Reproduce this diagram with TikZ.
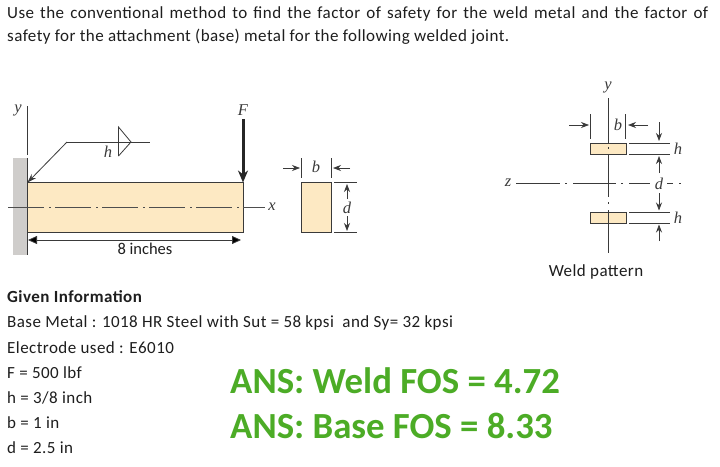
\documentclass[tikz,border=0pt]{standalone}
\usepackage{fontspec}
\setmainfont{Carlito}[LetterSpace=2.6]
\newfontfamily\plainfont{Carlito}
\newfontfamily\serifit{Liberation Serif}[ItalicFont=* Italic]
\usetikzlibrary{arrows.meta}
\definecolor{beam}{HTML}{FDE9C3}
\definecolor{wall}{HTML}{CFCDCB}
\definecolor{ink}{HTML}{3A3A3A}
\definecolor{ans}{HTML}{4CAC26}
\definecolor{txt}{HTML}{1E1E1E}
\tikzset{
  x=1pt,y=-1pt,
  body/.style={inner sep=0pt,anchor=west,text=txt,font=\fontsize{17}{20}\selectfont},
  lbl/.style={inner sep=0pt,text=txt,font=\fontsize{17}{20}\selectfont},
  answer/.style={inner sep=0pt,anchor=west,text=ans,font=\plainfont\fontsize{36.8}{40}\selectfont\bfseries},
  sym/.style={inner sep=0pt,text=ink,font=\fontsize{16.5}{17}\serifit\itshape},
  part/.style={draw=ink,line width=1pt,fill=beam,inner sep=0pt,outer sep=0pt},
  ln/.style={draw=ink,line width=0.8pt},
  thin ln/.style={draw=ink,line width=0.7pt},
  centre/.style={draw=ink!90,line width=0.8pt,dash pattern=on 36pt off 5pt on 2pt off 4pt},
  dim/.style={draw=ink,line width=0.7pt,-{Stealth[length=8pt,width=6pt]}},
  span/.style={draw=ink,line width=0.8pt,{Triangle[length=9pt,width=8pt,fill=black]}-{Triangle[length=9pt,width=8pt,fill=black]}},
}
\begin{document}
\begin{tikzpicture}
\useasboundingbox (0,0) rectangle (720,466);
\fill[white] (0,0) rectangle (720,466);
% heading
\node[body] (t1) at (7,14) {\makebox[701pt][s]{Use the conventional method to find the factor of safety for the weld metal and the factor of}};
\node[body] (t2) at (7,37) {safety for the attachment (base) metal for the following welded joint.};
% wall and beam
\node[draw=none,fill=wall,inner sep=0pt,minimum width=14.5pt,minimum height=97pt,anchor=north east] (wallbox) at (27.5,158) {};
\node[part,minimum width=215.5pt,minimum height=49.5pt,anchor=north west] (beambox) at (27.5,182.5) {};
\coordinate (ytop) at (27.5,106);
\coordinate (ybreak) at (27.5,155);
\coordinate (wallbase) at (27.5,255);
\draw[ln] (ytop) -- (ybreak);
\draw[ln] (27.5,158) -- (wallbase);
\coordinate (cl0) at (8,207);
\coordinate (cl1) at (265,207);
\draw[centre] (cl0) -- (cl1);
\node[sym] (ylab) at (18,110) {y};
\node[sym] (xlab) at (272,207) {x};
\node[sym] (flab) at (243,110) {F};
% force
\coordinate (ftop) at (243,119);
\draw[draw=black!85,line width=3pt,-{Stealth[length=12pt,width=10pt]}] (ftop) -- (beambox.north east);
% weld symbol
\coordinate (lk) at (67,142);
\coordinate (lend) at (150,142);
\coordinate (wt) at (118.5,127);
\coordinate (wp) at (131,142);
\coordinate (wb) at (118.5,156);
\draw[ln,-{Stealth[length=9pt,width=6pt]}] (lk) -- (beambox.north west);
\draw[ln] (lk) -- (lend);
\draw[ln] (wb) -- (wt) -- (wp) -- (wb);
\node[sym] (hlab) at (108,151.5) {h};
% length dimension
\coordinate (da) at (28,240);
\coordinate (db) at (241,240);
\draw[span] (da) -- (db);
\node[lbl,font=\plainfont\fontsize{16.5}{20}\selectfont] (len) at (145,248.5) {8 inches};
% section
\node[part,minimum width=30.5pt,minimum height=50pt,anchor=north west] (sec) at (301,182) {};
\coordinate (sl0) at (301,158); \coordinate (sl1) at (301,178);
\coordinate (sr0) at (331.5,158); \coordinate (sr1) at (331.5,178);
\draw[thin ln] (sl0) -- (sl1);
\draw[thin ln] (sr0) -- (sr1);
\coordinate (sa0) at (283,168); \coordinate (sa1) at (300,168);
\coordinate (sb0) at (350,168); \coordinate (sb1) at (333,168);
\draw[dim] (sa0) -- (sa1);
\draw[dim] (sb0) -- (sb1);
\node[sym] (blab) at (316,167) {b};
\coordinate (se0) at (334,182); \coordinate (se1) at (357,182);
\coordinate (sf0) at (334,232); \coordinate (sf1) at (357,232);
\draw[thin ln] (se0) -- (se1);
\draw[thin ln] (sf0) -- (sf1);
\coordinate (sc0) at (347,199); \coordinate (sc1) at (347,184);
\coordinate (sd0) at (347,216); \coordinate (sd1) at (347,231);
\draw[dim] (sc0) -- (sc1);
\draw[dim] (sd0) -- (sd1);
\node[sym] (dlab) at (347,207.5) {d};
% weld pattern
\node[part,minimum width=36.5pt,minimum height=11pt,anchor=north west] (wtop) at (590,143) {};
\node[part,minimum width=36.5pt,minimum height=11pt,anchor=north west] (wbot) at (590,212) {};
\coordinate (ay0) at (608,98); \coordinate (ay1) at (608,143);
\coordinate (ayd0) at (608,147); \coordinate (ayd1) at (608,149);
\coordinate (ay1b) at (608,154); \coordinate (ay1c) at (608,197);
\coordinate (ay2) at (608,202); \coordinate (ay3) at (608,204);
\coordinate (ay4) at (608,210); \coordinate (ay5) at (608,253);
\draw[ln] (ay0) -- (ay1);
\draw[ln] (ayd0) -- (ayd1);
\draw[ln] (ay1b) -- (ay1c);
\draw[ln] (ay2) -- (ay3);
\draw[ln] (ay4) -- (ay5);
\coordinate (az0) at (516,183); \coordinate (az1) at (560,183);
\coordinate (az2) at (565,183); \coordinate (az3) at (567,183);
\coordinate (az4) at (573,183); \coordinate (az5) at (616,183);
\coordinate (az6) at (621,183); \coordinate (az7) at (623,183);
\coordinate (az8) at (629,183); \coordinate (az9) at (650,183);
\coordinate (aza) at (667,183); \coordinate (azb) at (673,183);
\coordinate (azc) at (679,183); \coordinate (azd) at (681,183);
\draw[ln] (az0) -- (az1);
\draw[ln] (az2) -- (az3);
\draw[ln] (az4) -- (az5);
\draw[ln] (az6) -- (az7);
\draw[ln] (az8) -- (az9);
\draw[ln] (aza) -- (azb);
\draw[ln] (azc) -- (azd);
\node[sym] (py) at (608,87) {y};
\node[sym] (pz) at (508,183) {z};
\node[sym] (pd) at (659,183.5) {d};
\node[sym] (pb) at (618,125) {b};
\node[sym] (ph1) at (678,149) {h};
\node[sym] (ph2) at (678,218) {h};
\coordinate (pl0) at (590,114); \coordinate (pl1) at (590,139);
\coordinate (pr0) at (625.7,114); \coordinate (pr1) at (625.7,139);
\draw[thin ln] (pl0) -- (pl1);
\draw[thin ln] (pr0) -- (pr1);
\coordinate (pa0) at (569,125); \coordinate (pa1) at (589,125);
\coordinate (pb0) at (648,125); \coordinate (pb1) at (628,125);
\draw[dim] (pa0) -- (pa1);
\draw[dim] (pb0) -- (pb1);
\foreach \nm/\yy in {a/143,b/154,c/212,d/223}{
  \coordinate (h\nm0) at (629,\yy); \coordinate (h\nm1) at (670,\yy);
  \draw[thin ln] (h\nm0) -- (h\nm1);
}
\coordinate (v10) at (659,122); \coordinate (v11) at (659,141);
\coordinate (v20) at (659,173); \coordinate (v21) at (659,156);
\coordinate (v30) at (659,193); \coordinate (v31) at (659,210.5);
\coordinate (v40) at (659,241); \coordinate (v41) at (659,224.5);
\draw[dim] (v10) -- (v11);
\draw[dim] (v20) -- (v21);
\draw[dim] (v30) -- (v31);
\draw[dim] (v40) -- (v41);
\node[lbl] (wpl) at (596,272) {Weld pattern};
% given
\node[body,font=\fontsize{17}{20}\selectfont\bfseries] (g0) at (7,297) {Given Information};
\node[body] (g1) at (7,322.5) {Base Metal : 1018 HR Steel with Sut = 58 kpsi\ \ and Sy= 32 kpsi};
\node[body] (g2) at (7,347.5) {Electrode used : E6010};
\node[body] (g3) at (7,372.5) {F = 500 lbf};
\node[body] (g4) at (7,397.5) {h = 3/8 inch};
\node[body] (g5) at (7,423) {b = 1 in};
\node[body] (g6) at (7,448) {d = 2.5 in};
\node[answer] (a1) at (230,381) {ANS: Weld FOS = 4.72};
\node[answer] (a2) at (230,426) {ANS: Base FOS = 8.33};
\end{tikzpicture}
\end{document}
